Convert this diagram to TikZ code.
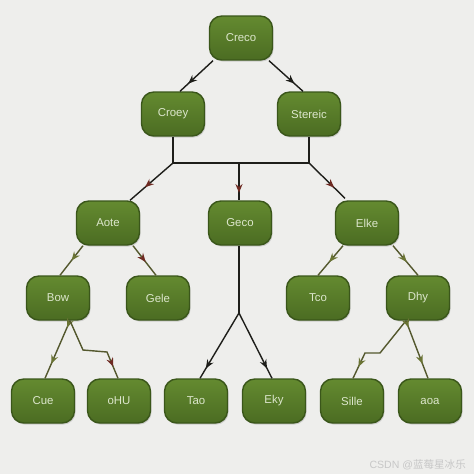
\documentclass[tikz,border=0pt]{standalone}
\usepackage{fontspec}
\setmainfont{Liberation Sans}
\newfontfamily\cjkfont{Noto Sans CJK SC}
\usetikzlibrary{calc,shadows,arrows.meta,decorations.markings}
\definecolor{bgpaper}{HTML}{EEEEEC}
\definecolor{leaftop}{HTML}{648A30}
\definecolor{leafbot}{HTML}{4B6C22}
\definecolor{leafborder}{HTML}{3A561A}
\definecolor{leaftext}{HTML}{DCE6CC}
\definecolor{linkdark}{HTML}{1E1E1A}
\definecolor{linkolive}{HTML}{54582E}
\definecolor{tipred}{HTML}{6E2A22}
\definecolor{tipolive}{HTML}{6A7434}
\begin{document}
\begin{tikzpicture}[x=0.02cm,y=-0.02cm,
    box/.style={draw=leafborder, line width=0.8pt, top color=leaftop, bottom color=leafbot,
      rounded corners=7pt, minimum width=1.26cm, minimum height=0.88cm, text=leaftext,
      font=\fontsize{6.5}{7.5}\selectfont,
      drop shadow={opacity=0.3, shadow xshift=0.6pt, shadow yshift=-0.9pt}},
    link/.style={line width=0.8pt, draw=linkdark},
    olivelink/.style={line width=0.8pt, draw=linkolive},
    tip/.style 2 args={postaction={decorate, decoration={markings,
      mark=at position #1 with {\arrow[#2]{Stealth[length=5pt,width=4pt]}}}}}]
  % background
  \fill[bgpaper] (0,0) rectangle (474,474);
  \useasboundingbox (0,0) rectangle (474,474);

  % Marking nodes, top two levels
  \node[box] (creco) at (241,38) {Creco};
  \node[box] (croey) at (173,114) {Croey};
  \node[box] (stereic) at (309,114) {Stereic};

  % Marking nodes, middle level
  \node[box] (aote) at (108,223) {Aote};
  \node[box] (geco) at (240,223) {Geco};
  \node[box] (elke) at (367,223) {Elke};

  % Marking nodes, fourth level
  \node[box] (bow) at (58,298) {Bow};
  \node[box] (gele) at (158,298) {Gele};
  \node[box] (tco) at (318,298) {Tco};
  \node[box] (dhy) at (418,298) {Dhy};

  % Marking nodes, bottom level
  \node[box] (cue) at (43,401) {Cue};
  \node[box] (ohu) at (119,401) {oHU};
  \node[box] (tao) at (196,401) {Tao};
  \node[box] (eky) at (274,401) {Eky};
  \node[box] (sille) at (352,401) {Sille};
  \node[box] (aoa) at (430,401) {aoa};

  % Drawing segments creco -> croey, stereic
  \draw[link, tip={0.75}{linkdark}] ($(creco.south)+(-28,0)$) -- ($(croey.north)+(7,0)$);
  \draw[link, tip={0.75}{linkdark}] ($(creco.south)+(28,0)$) -- ($(stereic.north)+(-6,0)$);

  % Drawing the bus under croey and stereic
  \coordinate (busl) at (173,163);
  \coordinate (busm) at (239,163);
  \coordinate (busr) at (309,163);
  \draw[link] (croey.south) -- (busl) -- (busr) -- (stereic.south);
  \draw[link, tip={0.65}{tipred}] (busl) -- ($(aote.north)+(22,0)$);
  \draw[link, tip={0.8}{tipred}] (busm) -- (geco.north -| busm);
  \draw[link, tip={0.7}{tipred}] (busr) -- ($(elke.north)+(-22,-2)$);

  % Drawing segments aote -> bow, gele
  \draw[olivelink, tip={0.5}{tipolive}] ($(aote.south)+(-25,0)$) -- ($(bow.north)+(2,0)$);
  \draw[olivelink, tip={0.55}{tipred}] ($(aote.south)+(25,0)$) -- ($(gele.north)+(-2,0)$);

  % Drawing segments elke -> tco, dhy
  \draw[olivelink, tip={0.55}{tipolive}] ($(elke.south)+(-24,0)$) -- (tco.north);
  \draw[olivelink, tip={0.55}{tipolive}] ($(elke.south)+(26,0)$) -- (dhy.north);

  % Drawing segments geco -> tao, eky
  \coordinate (split) at (239,313);
  \draw[link] (geco.south -| split) -- (split);
  \draw[link, tip={0.85}{linkdark}] (split) -- ($(tao.north)+(4,0)$);
  \draw[link, tip={0.85}{linkdark}] (split) -- ($(eky.north)+(-2,0)$);

  % Drawing segments bow -> cue, ohu
  \coordinate (bowfoot) at ($(bow.south)+(12,0)$);
  \draw[olivelink, tip={0.12}{tipolive}, tip={0.75}{tipolive}] (bowfoot) -- ($(cue.north)+(2,0)$);
  \draw[olivelink, tip={0.85}{tipred}] (bowfoot) -- (83,350) -- (107,352) -- ($(ohu.north)+(-1,0)$);

  % Drawing segments dhy -> sille, aoa
  \coordinate (dhyfoot) at ($(dhy.south)+(-12,0)$);
  \draw[olivelink, tip={0.85}{tipolive}] (dhyfoot) -- (380,353) -- (365,353) -- ($(sille.north)+(1,0)$);
  \draw[olivelink, tip={0.12}{tipolive}, tip={0.75}{tipolive}] (dhyfoot) -- ($(aoa.north)+(-2,0)$);

  % Marking the watermark
  \node[text=black!22, font=\fontsize{6}{7}\selectfont, anchor=east] (mark) at (472,465)
    {CSDN @{\cjkfont 蓝莓星冰乐}};
\end{tikzpicture}
\end{document}
